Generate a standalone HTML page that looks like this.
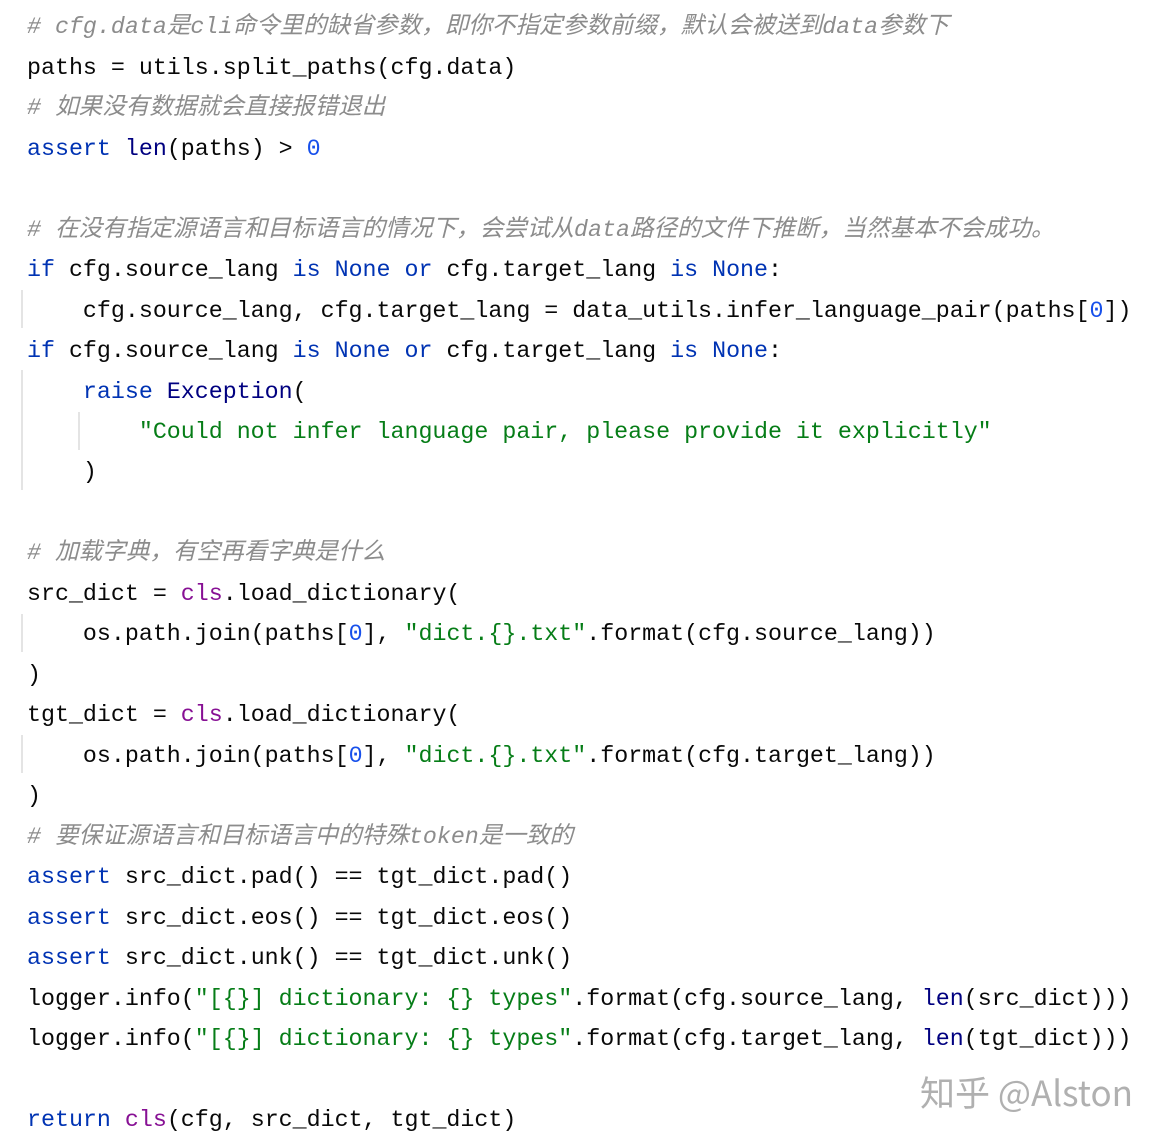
<!DOCTYPE html>
<html><head><meta charset="utf-8"><style>
body{margin:0;width:1169px;height:1138px;background:#fff;position:relative;overflow:hidden}
.l{position:absolute;left:27px;height:40px;line-height:40px;white-space:pre;font-family:"Liberation Mono","Noto Sans CJK SC",monospace;font-size:23.3px;color:#080808}
.c{color:#8c8c8c;font-style:italic}
.z{font-size:23.6px}
.k{color:#0033b3}.n{color:#1750eb}.s{color:#067d17}.p{color:#871094}.b{color:#000080}
.g{position:absolute;width:2px;background:#e4e4e4}
.w{position:absolute;left:920px;top:1066px;font-family:"Noto Sans CJK SC","Liberation Sans",sans-serif;font-size:35px;color:#b0b0b0;white-space:nowrap}
</style></head><body>
<div class="g" style="left:21px;top:290px;height:38px"></div>
<div class="g" style="left:21px;top:370px;height:120px"></div>
<div class="g" style="left:78px;top:412px;height:38px"></div>
<div class="g" style="left:21px;top:614px;height:38px"></div>
<div class="g" style="left:21px;top:735px;height:38px"></div>
<div class="l c" style="top:7px"># cfg.data<span class="z">是</span>cli<span class="z">命令里的缺省参数，即你不指定参数前缀，默认会被送到</span>data<span class="z">参数下</span></div>
<div class="l" style="top:48px">paths = utils.split_paths(cfg.data)</div>
<div class="l c" style="top:88px"># <span class="z">如果没有数据就会直接报错退出</span></div>
<div class="l" style="top:129px"><span class="k">assert</span> <span class="b">len</span>(paths) &gt; <span class="n">0</span></div>
<div class="l c" style="top:210px"># <span class="z">在没有指定源语言和目标语言的情况下，会尝试从</span>data<span class="z">路径的文件下推断，当然基本不会成功。</span></div>
<div class="l" style="top:250px"><span class="k">if</span> cfg.source_lang <span class="k">is</span> <span class="k">None</span> <span class="k">or</span> cfg.target_lang <span class="k">is</span> <span class="k">None</span>:</div>
<div class="l" style="top:291px">    cfg.source_lang, cfg.target_lang = data_utils.infer_language_pair(paths[<span class="n">0</span>])</div>
<div class="l" style="top:331px"><span class="k">if</span> cfg.source_lang <span class="k">is</span> <span class="k">None</span> <span class="k">or</span> cfg.target_lang <span class="k">is</span> <span class="k">None</span>:</div>
<div class="l" style="top:372px">    <span class="k">raise</span> <span class="b">Exception</span>(</div>
<div class="l" style="top:412px">        <span class="s">"Could not infer language pair, please provide it explicitly"</span></div>
<div class="l" style="top:452px">    )</div>
<div class="l c" style="top:533px"># <span class="z">加载字典，有空再看字典是什么</span></div>
<div class="l" style="top:574px">src_dict = <span class="p">cls</span>.load_dictionary(</div>
<div class="l" style="top:614px">    os.path.join(paths[<span class="n">0</span>], <span class="s">"dict.{}.txt"</span>.format(cfg.source_lang))</div>
<div class="l" style="top:655px">)</div>
<div class="l" style="top:695px">tgt_dict = <span class="p">cls</span>.load_dictionary(</div>
<div class="l" style="top:736px">    os.path.join(paths[<span class="n">0</span>], <span class="s">"dict.{}.txt"</span>.format(cfg.target_lang))</div>
<div class="l" style="top:776px">)</div>
<div class="l c" style="top:817px"># <span class="z">要保证源语言和目标语言中的特殊</span>token<span class="z">是一致的</span></div>
<div class="l" style="top:857px"><span class="k">assert</span> src_dict.pad() == tgt_dict.pad()</div>
<div class="l" style="top:898px"><span class="k">assert</span> src_dict.eos() == tgt_dict.eos()</div>
<div class="l" style="top:938px"><span class="k">assert</span> src_dict.unk() == tgt_dict.unk()</div>
<div class="l" style="top:979px">logger.info(<span class="s">"[{}] dictionary: {} types"</span>.format(cfg.source_lang, <span class="b">len</span>(src_dict)))</div>
<div class="l" style="top:1019px">logger.info(<span class="s">"[{}] dictionary: {} types"</span>.format(cfg.target_lang, <span class="b">len</span>(tgt_dict)))</div>
<div class="l" style="top:1100px"><span class="k">return</span> <span class="p">cls</span>(cfg, src_dict, tgt_dict)</div>
<div class="w">知乎 @Alston</div>
</body></html>
